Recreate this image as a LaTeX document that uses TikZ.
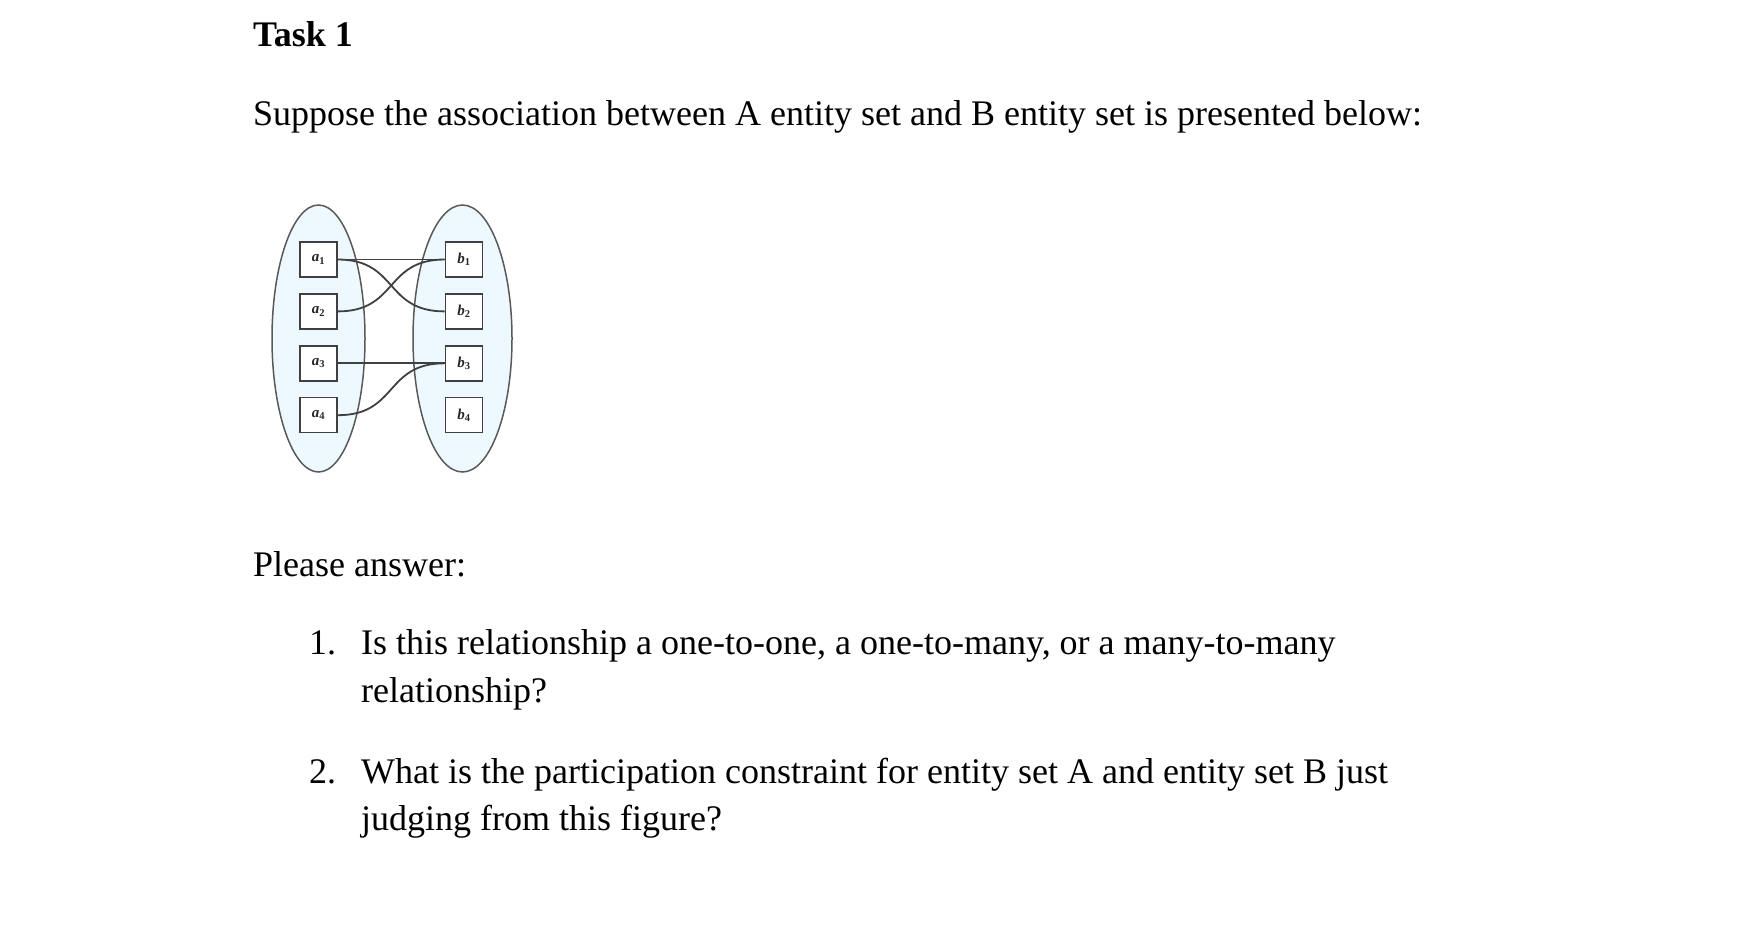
\documentclass[tikz,border=0pt]{standalone}
\usepackage{fontspec}
\setmainfont{Liberation Serif}
\usepackage{tikz}
\usetikzlibrary{positioning,shapes.geometric}

\newcommand{\elt}[2]{\textbf{\textit{#1}\textsubscript{#2}}}

\begin{document}
\begin{tikzpicture}[x=1pt, y=-1pt,
    txt/.style={anchor=base west, inner sep=0pt, font=\fontsize{36}{44}\selectfont},
    entityset/.style={ellipse, draw=black!65, line width=1.5pt, fill=blue!35!cyan!7, inner sep=0pt},
    elem/.style={draw=black!75, line width=1.4pt, fill=white, minimum width=37pt, minimum height=35pt,
        inner sep=0pt, font=\fontsize{15}{15}\selectfont, text=black!85},
    link/.style={draw=black!75, line width=1.8pt, looseness=1.3},
    node distance=15.5pt and 107pt]
    \useasboundingbox (0,0) rectangle (1737,946);
    % heading and question text
    \node[txt, font=\bfseries\fontsize{36}{44}\selectfont] (title) at (253,46) {Task 1};
    \node[txt] (intro) at (253,125) {Suppose the association between A entity set and B entity set is presented below:};
    \node[txt] (ask) at (253,576) {Please answer:};
    \node[txt] (n1) at (309,654) {1.};
    \node[txt] (q1) at (361,654) {Is this relationship a one-to-one, a one-to-many, or a many-to-many};
    \node[txt] (q1b) at (361,702) {relationship?};
    \node[txt] (n2) at (309,783) {2.};
    \node[txt] (q2) at (361,783) {What is the participation constraint for entity set A and entity set B just};
    \node[txt] (q2b) at (361,830) {judging from this figure?};
    % the two entity sets
    \node[entityset, minimum width=93pt, minimum height=267pt] (setA) at (318.5,338.5) {};
    \node[entityset, minimum width=99pt, minimum height=267pt] (setB) at (462.5,338.5) {};
    \node[elem] (a1) at (318.5,259.5) {\elt{a}{1}};
    \node[elem, below=of a1] (a2) {\elt{a}{2}};
    \node[elem, below=of a2] (a3) {\elt{a}{3}};
    \node[elem, below=of a3] (a4) {\elt{a}{4}};
    \node[elem, right=of a1] (b1) {\elt{b}{1}};
    \node[elem, below=of b1] (b2) {\elt{b}{2}};
    \node[elem, below=of b2] (b3) {\elt{b}{3}};
    \node[elem, below=of b3] (b4) {\elt{b}{4}};
    % associations
    \draw[link] (a1.east) -- (b1.west);
    \draw[link] (a1.east) to[out=0, in=180] (b2.west);
    \draw[link] (a2.east) to[out=0, in=180] (b1.west);
    \draw[link] (a3.east) -- (b3.west);
    \draw[link] (a4.east) to[out=0, in=180] (b3.west);
\end{tikzpicture}
\end{document}
